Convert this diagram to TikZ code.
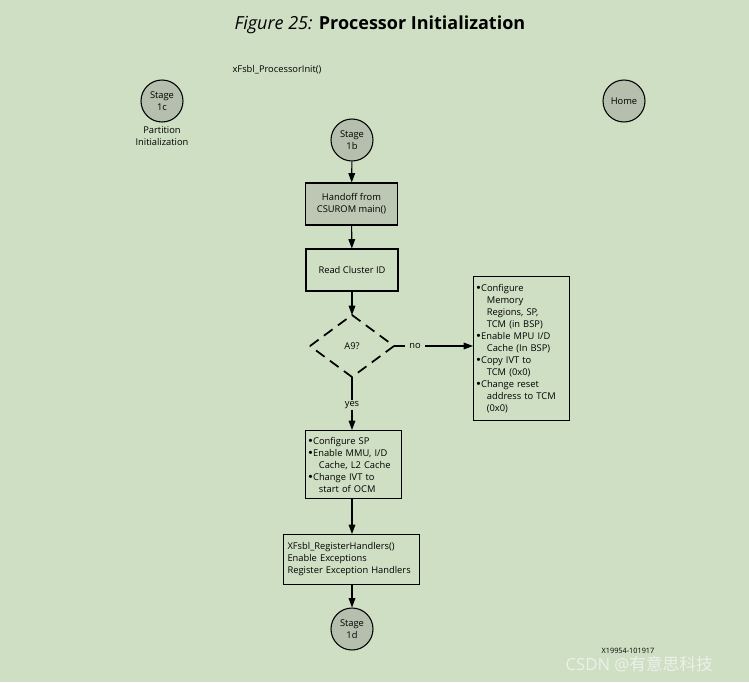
\documentclass[tikz,border=0pt]{standalone}
\usepackage{fontspec}
\setmainfont{Open Sans}
\newfontfamily\cjk{Noto Sans CJK SC}
\usetikzlibrary{arrows.meta}
\definecolor{bg}{RGB}{207,223,196}
\definecolor{circ}{RGB}{181,191,174}
\definecolor{hbox}{RGB}{188,200,179}
\definecolor{wmc}{RGB}{236,240,234}
\begin{document}
\begin{tikzpicture}[x=0.75pt,y=-0.75pt,font=\fontsize{7}{9}\selectfont,
 stg/.style={circle,draw,thick,fill=circ,minimum size=31.5pt,inner sep=0pt,align=center},
 pbox/.style={draw,thick,align=center,inner sep=0pt},
 arr/.style={-{Triangle[length=7pt,width=5pt]},thick}]
\fill[bg] (0,0) rectangle (749,682);
\useasboundingbox (0,0) rectangle (749,682);
\node (title) at (380,25) {\fontsize{13.5}{16}\selectfont\textit{Figure 25:} \textbf{Processor Initialization}};
\node (fn) at (277,70) {xFsbl\_ProcessorInit()};
\node[stg] (s1c) at (162,101) {Stage\\1c};
\node[align=center] (pi) at (162,136) {Partition\\Initialization};
\node[stg] (home) at (624,101) {Home};
\node[stg] (s1b) at (352,140) {Stage\\1b};
\node[pbox,fill=hbox,minimum width=68.5pt,minimum height=31.5pt] (h) at (351.5,204) {Handoff from\\CSUROM main()};
\node[pbox,minimum width=69pt,minimum height=31.5pt] (r) at (352,270) {Read Cluster ID};
\coordinate (dc) at (352,346);
\draw[line width=1.3pt,dash pattern=on 8pt off 5pt] (310,346) -- (352,315) -- (394,346) -- (352,377) -- cycle;
\node (a9) at (dc) {A9?};
\coordinate (dt) at (352,315); \coordinate (db) at (352,377); \coordinate (dr) at (394,346);
\node[pbox,minimum width=72pt,minimum height=108pt,align=left,anchor=north west,inner xsep=2pt,inner ysep=1pt,text width=68pt] (nb) at (473,276) {%
\raisebox{1.5pt}{\tiny$\bullet$}Configure\\\hspace*{8pt}Memory\\\hspace*{8pt}Regions, SP,\\\hspace*{8pt}TCM (in BSP)\\
\raisebox{1.5pt}{\tiny$\bullet$}Enable MPU I/D\\\hspace*{8pt}Cache (In BSP)\\
\raisebox{1.5pt}{\tiny$\bullet$}Copy IVT to\\\hspace*{8pt}TCM (0x0)\\
\raisebox{1.5pt}{\tiny$\bullet$}Change reset\\\hspace*{8pt}address to TCM\\\hspace*{8pt}(0x0)};
\node[pbox,minimum width=72pt,minimum height=51pt,align=left,anchor=north west,inner xsep=2pt,inner ysep=2pt,text width=68pt] (yb) at (305,430) {%
\raisebox{1.5pt}{\tiny$\bullet$}Configure SP\\
\raisebox{1.5pt}{\tiny$\bullet$}Enable MMU, I/D\\\hspace*{8pt}Cache, L2 Cache\\
\raisebox{1.5pt}{\tiny$\bullet$}Change IVT to\\\hspace*{8pt}start of OCM};
\node[pbox,minimum width=102pt,minimum height=37.5pt,align=left,anchor=north west,inner xsep=3pt,text width=96pt] (rh) at (283,534) {XFsbl\_RegisterHandlers()\\Enable Exceptions\\Register Exception Handlers};
\node[stg] (s1d) at (352,629) {Stage\\1d};
\node[font=\fontsize{5.5}{6}\selectfont] (xid) at (628,651) {X19954-101917};
\node[text=wmc,font=\fontsize{12.5}{13}\selectfont,anchor=west] (wm) at (561,664) {CSDN @{\cjk 有意思科技}};
\draw[arr] (s1b) -- (h);
\draw[arr] (h) -- (r);
\draw[arr] (r) -- (dt);
\node (no) at (415,346) {no};
\draw[thick] (dr) -- (no);
\draw[arr] (no) -- (nb.west|-dc);
\node[fill=bg,inner sep=1pt] (yes) at (352,405) {yes};
\draw[thick] (db) -- (yes);
\draw[arr] (yes) -- (yb.north-|dc);
\draw[arr] (yb.south-|dc) -- (rh.north-|dc);
\draw[arr] (rh.south-|dc) -- (s1d);
\end{tikzpicture}
\end{document}
